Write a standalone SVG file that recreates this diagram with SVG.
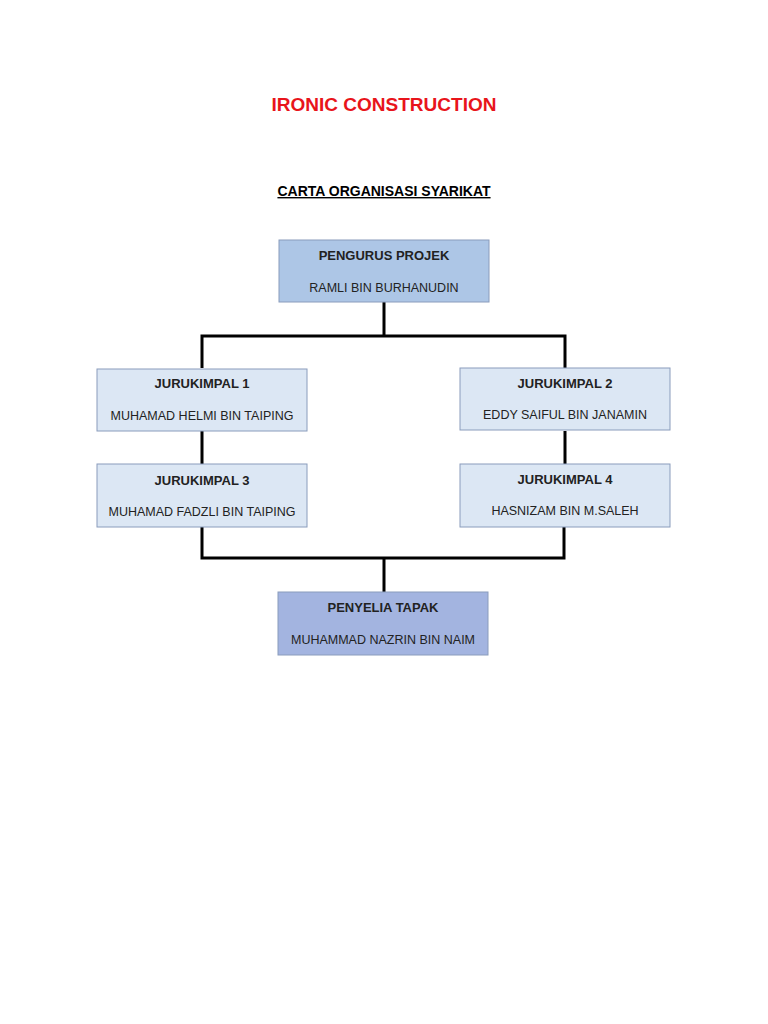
<svg xmlns="http://www.w3.org/2000/svg" width="768" height="1024" viewBox="0 0 768 1024">
<style>
.t{font-family:"Liberation Sans",Arial,sans-serif;text-anchor:middle;fill:#222}
.b{font-weight:bold;font-size:13px}
.n{font-size:12.5px}
.box{stroke:#8a9cbc;stroke-width:1}
.c{stroke:#000;stroke-width:3;fill:none}
</style>
<rect width="768" height="1024" fill="#fff"/>
<text x="384" y="111" class="t" style="font-weight:bold;font-size:19px;fill:#e8141b">IRONIC CONSTRUCTION</text>
<text x="384" y="196" class="t" style="font-weight:bold;font-size:14px;fill:#000;text-decoration:underline">CARTA ORGANISASI SYARIKAT</text>
<g id="connectors">
<path class="c" d="M384 302V336M202 368V336H565V368"/>
<path class="c" d="M202 431V464M565 431V464"/>
<path class="c" d="M202 527V558H564V527M384 558V592"/>
</g>
<g id="pengurus"><rect class="box" x="279" y="240" width="210" height="62" fill="#adc6e6"/>
<text x="384" y="260" class="t b">PENGURUS PROJEK</text><text x="384" y="292" class="t n">RAMLI BIN BURHANUDIN</text></g>
<g id="j1"><rect class="box" x="97" y="369" width="210" height="62" fill="#dce7f4"/>
<text x="202" y="388" class="t b">JURUKIMPAL 1</text><text x="202" y="420" class="t n">MUHAMAD HELMI BIN TAIPING</text></g>
<g id="j2"><rect class="box" x="460" y="368" width="210" height="62" fill="#dce7f4"/>
<text x="565" y="388" class="t b">JURUKIMPAL 2</text><text x="565" y="419" class="t n">EDDY SAIFUL BIN JANAMIN</text></g>
<g id="j3"><rect class="box" x="97" y="464" width="210" height="63" fill="#dce7f4"/>
<text x="202" y="485" class="t b">JURUKIMPAL 3</text><text x="202" y="516" class="t n">MUHAMAD FADZLI BIN TAIPING</text></g>
<g id="j4"><rect class="box" x="460" y="464" width="210" height="63" fill="#dce7f4"/>
<text x="565" y="484" class="t b">JURUKIMPAL 4</text><text x="565" y="515" class="t n">HASNIZAM BIN M.SALEH</text></g>
<g id="penyelia"><rect class="box" x="278" y="592" width="210" height="63" fill="#a3b4e0"/>
<text x="383" y="612" class="t b">PENYELIA TAPAK</text><text x="383" y="644" class="t n">MUHAMMAD NAZRIN BIN NAIM</text></g>
</svg>
